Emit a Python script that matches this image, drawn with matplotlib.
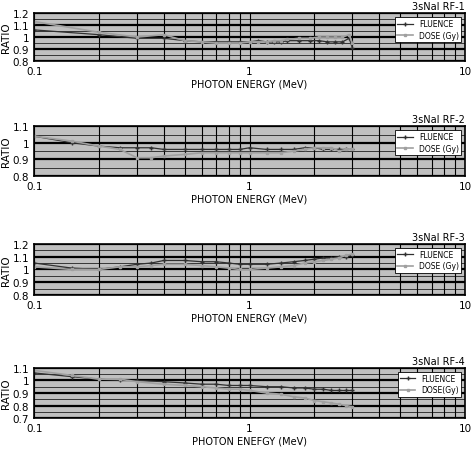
import matplotlib
matplotlib.use("Agg")
import matplotlib.pyplot as plt
import numpy as np
from matplotlib.ticker import FixedLocator, NullFormatter, FixedFormatter

# energies (MeV)
e1 = [0.1, 0.2, 0.3, 0.4, 0.5, 0.6, 0.7, 0.8, 0.9, 1.0, 1.1, 1.2, 1.3, 1.4, 1.5, 1.7, 1.9, 2.1, 2.3, 2.5, 2.7, 2.9, 3.0]
f1 = [1.06, 1.02, 0.99, 0.99, 0.97, 0.96, 0.96, 0.96, 0.96, 0.96, 0.97, 0.96, 0.96, 0.96, 0.97, 0.97, 0.97, 0.97, 0.96, 0.96, 0.96, 0.99, 0.91]
d1 = [1.13, 1.04, 1.00, 1.02, 0.97, 0.96, 0.95, 0.95, 0.95, 0.96, 0.96, 0.96, 0.97, 0.97, 0.98, 0.99, 0.99, 1.00, 1.00, 1.00, 1.00, 1.02, 0.95]

e2 = [0.1, 0.15, 0.2, 0.25, 0.3, 0.35, 0.4, 0.5, 0.6, 0.7, 0.8, 0.9, 1.0, 1.2, 1.4, 1.6, 1.8, 2.0, 2.2, 2.4, 2.6, 2.8, 3.0]
f2 = [1.04, 1.00, 0.98, 0.97, 0.97, 0.97, 0.96, 0.96, 0.96, 0.96, 0.96, 0.96, 0.97, 0.96, 0.96, 0.96, 0.97, 0.97, 0.96, 0.96, 0.96, 0.96, 0.96]
d2 = [1.04, 1.01, 0.98, 0.96, 0.91, 0.91, 0.92, 0.93, 0.94, 0.94, 0.94, 0.94, 0.94, 0.94, 0.94, 0.95, 0.96, 0.97, 0.97, 0.97, 0.95, 0.96, 0.96]

e3 = [0.1, 0.15, 0.2, 0.25, 0.3, 0.35, 0.4, 0.5, 0.6, 0.7, 0.8, 0.9, 1.0, 1.2, 1.4, 1.6, 1.8, 2.0, 2.2, 2.4, 2.6, 2.8, 3.0]
f3 = [1.05, 1.01, 1.00, 1.02, 1.04, 1.05, 1.07, 1.07, 1.06, 1.06, 1.05, 1.04, 1.04, 1.04, 1.05, 1.06, 1.07, 1.08, 1.09, 1.09, 1.10, 1.10, 1.11]
d3 = [1.02, 1.00, 1.00, 1.02, 1.02, 1.03, 1.04, 1.04, 1.03, 1.02, 1.01, 1.00, 1.00, 1.01, 1.02, 1.03, 1.05, 1.06, 1.07, 1.08, 1.09, 1.11, 1.12]

e4 = [0.1, 0.15, 0.2, 0.25, 0.3, 0.4, 0.5, 0.6, 0.7, 0.8, 0.9, 1.0, 1.2, 1.4, 1.6, 1.8, 2.0, 2.2, 2.4, 2.6, 2.8, 3.0]
f4 = [1.06, 1.03, 1.01, 1.00, 1.00, 0.99, 0.98, 0.97, 0.97, 0.96, 0.96, 0.96, 0.95, 0.95, 0.94, 0.94, 0.93, 0.93, 0.92, 0.92, 0.92, 0.92]
d4 = [1.08, 1.04, 1.01, 1.01, 0.99, 0.97, 0.96, 0.95, 0.94, 0.93, 0.93, 0.92, 0.90, 0.89, 0.87, 0.86, 0.84, 0.83, 0.82, 0.81, 0.80, 0.79]

panels = [
    (e1, f1, d1, "3sNaI RF-1", (0.8, 1.2), "DOSE (Gy)", "PHOTON ENERGY (MeV)"),
    (e2, f2, d2, "3sNaI RF-2", (0.8, 1.1), "DOSE (Gy)", "PHOTON ENERGY (MeV)"),
    (e3, f3, d3, "3sNaI RF-3", (0.8, 1.2), "DOSE (Gy)", "PHOTON ENERGY (MeV)"),
    (e4, f4, d4, "3sNaI RF-4", (0.7, 1.1), "DOSE(Gy)", "PHOTON ENEFGY (MeV)"),
]
boxes = [(0.864, 0.969), (0.612, 0.721), (0.351, 0.463), (0.081, 0.191)]

fig = plt.figure(figsize=(4.74, 4.56), dpi=100)
for (e, f, d, title, yl, dlab, xlab), (b, t) in zip(panels, boxes):
    ax = fig.add_axes([0.072, b, 0.909, t - b])
    ax.set_facecolor("#c0c0c0")
    ax.set_xscale("log")
    ax.set_xlim(0.1, 10)
    ax.set_ylim(*yl)
    majors = np.round(np.arange(yl[0], yl[1] + 1e-9, 0.1), 2)
    minors = np.round(np.arange(yl[0] + 0.05, yl[1], 0.1), 2)
    ax.yaxis.set_major_locator(FixedLocator(majors))
    ax.yaxis.set_major_formatter(FixedFormatter([("%g" % v) for v in majors]))
    ax.yaxis.set_minor_locator(FixedLocator(minors))
    ax.xaxis.set_major_locator(FixedLocator([0.1, 1, 10]))
    ax.xaxis.set_major_formatter(FixedFormatter(["0.1", "1", "10"]))
    ax.grid(True, which="major", axis="y", color="black", lw=1.6)
    ax.grid(True, which="minor", axis="y", color="black", lw=0.5)
    ax.grid(True, which="both", axis="x", color="black", lw=0.8)
    ax.xaxis.set_minor_formatter(NullFormatter())
    ax.tick_params(length=0, labelsize=7.5, which="both")
    for s in ax.spines.values():
        s.set_linewidth(1.2)
    ax.plot(e, f, color="#303030", lw=0.9, marker="+", ms=3, label="FLUENCE")
    ax.plot(e, d, color="#a0a0a0", lw=1.2, marker="s", ms=2, label=dlab)
    ax.set_ylabel("RATIO", fontsize=7.5, labelpad=1)
    ax.set_xlabel(xlab, fontsize=7, labelpad=2)
    ax.set_title(title, loc="right", fontsize=7, pad=3)
    leg = ax.legend(loc="upper right", fontsize=5.5, frameon=True, fancybox=False,
                    edgecolor="black", framealpha=1, borderpad=0.3, handlelength=2,
                    labelspacing=0.3)
    leg.get_frame().set_linewidth(0.6)

fig.savefig("out.png", dpi=100)
